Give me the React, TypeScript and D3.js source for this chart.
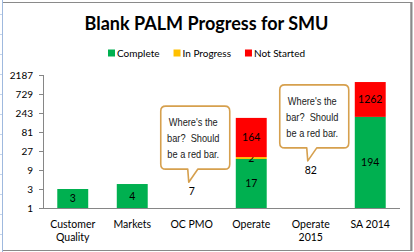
import React, { useEffect, useRef } from 'react';
import * as d3 from 'd3';

const categories = ['Customer Quality', 'Markets', 'OC PMO', 'Operate', 'Operate 2015', 'SA 2014'];
const complete = [3, 4, 0, 17, 0, 194];
const inProgress = [0, 0, 0, 2, 0, 0];
const notStarted = [0, 0, 7, 164, 82, 1262];
const seriesNames = ['Complete', 'In Progress', 'Not Started'];
const seriesColors = ['#00B050', '#FFC000', '#FF0000'];
const tickValues = [1, 3, 9, 27, 81, 243, 729, 2187];
// categories that get a speech bubble over their missing bar
const calloutCategories = ['OC PMO', 'Operate 2015'];
const calloutLines = ["Where's the", 'bar?  Should', 'be a red bar.'];

const W = 414;
const H = 252;
const LATO = 'Lato, "Open Sans", sans-serif';

const App: React.FC = () => {
  const svgRef = useRef<SVGSVGElement>(null);

  useEffect(() => {
    const svg = d3.select(svgRef.current);
    svg.selectAll('*').remove();

    // sheet edge + chart frame
    svg.append('rect').attr('width', W).attr('height', H).attr('fill', '#fff');
    for (let y = 14; y < H; y += 20) {
      svg.append('line').attr('x1', 0).attr('x2', 2).attr('y1', y + 0.5).attr('y2', y + 0.5)
        .attr('stroke', '#c3d3ea');
    }
    svg.append('line').attr('x1', 2.5).attr('x2', 2.5).attr('y1', 0).attr('y2', H).attr('stroke', '#9fb9de');
    svg.append('path')
      .attr('d', `M3,2.5 H411 V250.5 H3`)
      .attr('fill', 'none').attr('stroke', '#8a8a8a').attr('stroke-width', 1);
    svg.append('line').attr('x1', 411.5).attr('x2', 411.5).attr('y1', 2).attr('y2', 251)
      .attr('stroke', '#8a8a8a').attr('stroke-width', 2);

    // title
    svg.append('text')
      .attr('x', 206.5).attr('y', 29.5)
      .attr('text-anchor', 'middle')
      .attr('font-family', LATO).attr('font-weight', 'bold').attr('font-size', 18)
      .attr('fill', '#000')
      .text('Blank PALM Progress for SMU');

    // legend
    const legend = svg.append('g').attr('transform', 'translate(108,0)');
    let lx = 0;
    seriesNames.forEach((name, i) => {
      legend.append('rect').attr('x', lx).attr('y', 49.5).attr('width', 7).attr('height', 7)
        .attr('fill', seriesColors[i]);
      const t = legend.append('text').attr('x', lx + 9).attr('y', 57)
        .attr('font-family', LATO).attr('font-size', 10).attr('fill', '#000').text(name);
      const w = (t.node() as SVGTextElement).getComputedTextLength();
      lx += 9 + w + 14;
    });

    // scales
    const x = d3.scaleBand<string>().domain(categories).range([43, 400])
      .paddingInner(0.48).paddingOuter(0.24);
    const y = d3.scaleLog().base(3).domain([1, 2187]).range([208, 75]);

    // axes
    const axisColor = '#868686';
    svg.append('line').attr('x1', 43.5).attr('x2', 43.5).attr('y1', y(2187)).attr('y2', y(1))
      .attr('stroke', axisColor);
    tickValues.forEach(v => {
      svg.append('line').attr('x1', 39).attr('x2', 43.5)
        .attr('y1', Math.round(y(v)) + 0.5).attr('y2', Math.round(y(v)) + 0.5)
        .attr('stroke', axisColor);
      svg.append('text').attr('x', 33).attr('y', y(v) + 3.6)
        .attr('text-anchor', 'end')
        .attr('font-family', LATO).attr('font-size', 10).attr('fill', '#000')
        .text(String(v));
    });
    svg.append('line').attr('x1', 43).attr('x2', 400).attr('y1', 208.5).attr('y2', 208.5)
      .attr('stroke', axisColor);

    categories.forEach(c => {
      const lines = c.length > 8 ? c.split(' ') : [c];
      const t = svg.append('text').attr('text-anchor', 'middle')
        .attr('font-family', LATO).attr('font-size', 10.5).attr('fill', '#000');
      lines.forEach((ln, i) => {
        t.append('tspan').attr('x', (x(c) ?? 0) + x.bandwidth() / 2)
          .attr('y', 228 + i * 13).text(ln);
      });
    });

    // stacked bars
    const rows = categories.map((c, i) => ({
      category: c,
      Complete: complete[i],
      'In Progress': inProgress[i],
      'Not Started': notStarted[i],
    }));
    const stacked = d3.stack<any>().keys(seriesNames)(rows);

    const labelPos: Record<string, number> = {};
    stacked.forEach((layer, si) => {
      layer.forEach((d, ci) => {
        const value = d[1] - d[0];
        if (value <= 0) return;
        const lo = Math.max(d[0], 1);
        const hi = d[1];
        const cx = (x(categories[ci]) ?? 0) + x.bandwidth() / 2;
        // a stack with no base segment can't be plotted on the log axis
        if (complete[ci] > 0) {
          svg.append('rect')
            .attr('x', x(categories[ci]) ?? 0)
            .attr('y', y(hi))
            .attr('width', x.bandwidth())
            .attr('height', y(lo) - y(hi))
            .attr('fill', seriesColors[si]);
        }
        const ly = y(Math.sqrt(lo * hi));
        labelPos[categories[ci]] = ly;
        svg.append('text').attr('x', cx).attr('y', ly + 3.8)
          .attr('text-anchor', 'middle')
          .attr('font-family', LATO).attr('font-size', 10.5).attr('fill', '#000')
          .text(String(value));
      });
    });

    // speech bubbles
    calloutCategories.forEach(c => {
      const cx = (x(c) ?? 0) + x.bandwidth() / 2;
      const ly = labelPos[c];
      const tipX = cx - 3;
      const tipY = ly - 9;
      const bottom = ly - 22;
      const top = bottom - 63;
      const left = cx - 31;
      const right = cx + 38;
      const r = 5;
      const path = [
        `M${left + r},${top}`,
        `H${right - r}`,
        `Q${right},${top} ${right},${top + r}`,
        `V${bottom - r}`,
        `Q${right},${bottom} ${right - r},${bottom}`,
        `H${cx + 6}`,
        `L${tipX},${tipY}`,
        `L${cx - 4},${bottom}`,
        `H${left + r}`,
        `Q${left},${bottom} ${left},${bottom - r}`,
        `V${top + r}`,
        `Q${left},${top} ${left + r},${top}`,
        'Z',
      ].join(' ');
      svg.append('path').attr('d', path)
        .attr('fill', '#fff').attr('stroke', '#d6a04e').attr('stroke-width', 1.6)
        .attr('stroke-linejoin', 'round');
      const tx = (left + right) / 2 - 2;
      calloutLines.forEach((ln, i) => {
        // narrow face: squeeze Liberation Sans horizontally
        svg.append('text')
          .attr('transform', `translate(${tx},${top + 20 + i * 16}) scale(0.84,1)`)
          .attr('text-anchor', 'middle')
          .attr('font-family', '"Liberation Sans", Arial, sans-serif')
          .attr('font-size', 11).attr('fill', '#1a1a1a')
          .style('white-space', 'pre')
          .text(ln);
      });
    });
  }, []);

  return (
    <svg
      ref={svgRef}
      width={W}
      height={H}
      style={{ position: 'absolute', left: 0, top: 0, display: 'block' }}
    />
  );
};

export default App;
